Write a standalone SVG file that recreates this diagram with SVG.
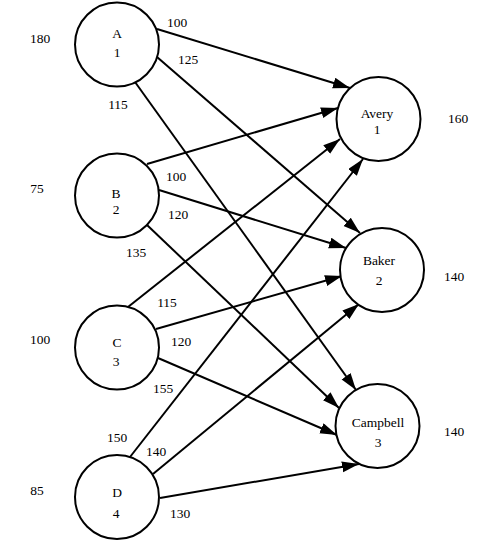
<svg xmlns="http://www.w3.org/2000/svg" width="477" height="546" viewBox="0 0 477 546">
<style>
.n{fill:#fff;stroke:#000;stroke-width:2}
.t{font-family:"Liberation Serif",serif;font-size:13.5px;fill:#000;text-anchor:middle;dominant-baseline:central}
.e{stroke:#000;stroke-width:2;fill:none;marker-end:url(#ah)}
</style>
<defs>
<marker id="ah" markerUnits="userSpaceOnUse" markerWidth="18" markerHeight="12" refX="17" refY="5.5" orient="auto">
<path d="M0,0 L17,5.5 L0,11 z" fill="#000"/>
</marker>
</defs>
<rect width="477" height="546" fill="#fff"/>
<g id="connectors">
<line class="e" x1="157" y1="29" x2="350" y2="88"/>
<line class="e" x1="157" y1="57" x2="360" y2="233"/>
<line class="e" x1="135" y1="82" x2="356" y2="390"/>
<line class="e" x1="147" y1="164" x2="338" y2="108"/>
<line class="e" x1="159" y1="190" x2="346" y2="248"/>
<line class="e" x1="147" y1="225" x2="339" y2="408"/>
<line class="e" x1="128" y1="307" x2="340" y2="139"/>
<line class="e" x1="156" y1="329" x2="342" y2="276"/>
<line class="e" x1="158" y1="358" x2="337" y2="435"/>
<line class="e" x1="130" y1="457" x2="363" y2="159"/>
<line class="e" x1="153" y1="474" x2="359" y2="304"/>
<line class="e" x1="160" y1="498" x2="359" y2="464"/>
</g>
<g id="edge-labels">
<text class="t" x="177" y="22">100</text>
<text class="t" x="188" y="59">125</text>
<text class="t" x="118" y="104">115</text>
<text class="t" x="176" y="176">100</text>
<text class="t" x="178" y="214">120</text>
<text class="t" x="136" y="252">135</text>
<text class="t" x="167" y="302">115</text>
<text class="t" x="181" y="341">120</text>
<text class="t" x="163" y="388">155</text>
<text class="t" x="117" y="437">150</text>
<text class="t" x="156" y="451">140</text>
<text class="t" x="180" y="513">130</text>
</g>
<g id="supply-labels">
<text class="t" x="40" y="38">180</text>
<text class="t" x="37" y="188">75</text>
<text class="t" x="40" y="339">100</text>
<text class="t" x="37" y="490">85</text>
</g>
<g id="demand-labels">
<text class="t" x="458" y="118">160</text>
<text class="t" x="454" y="276">140</text>
<text class="t" x="454" y="431">140</text>
</g>
<g id="node-A"><circle class="n" cx="117" cy="44.5" r="42"/><text class="t" x="117" y="33">A</text><text class="t" x="117" y="52">1</text></g>
<g id="node-B"><circle class="n" cx="117" cy="195.5" r="42"/><text class="t" x="116" y="193">B</text><text class="t" x="116" y="209">2</text></g>
<g id="node-C"><circle class="n" cx="117" cy="347.5" r="42"/><text class="t" x="117" y="342">C</text><text class="t" x="116" y="361">3</text></g>
<g id="node-D"><circle class="n" cx="117" cy="497" r="42"/><text class="t" x="117" y="492">D</text><text class="t" x="116" y="513">4</text></g>
<g id="node-Avery"><circle class="n" cx="378.5" cy="119" r="42"/><text class="t" x="377" y="113">Avery</text><text class="t" x="377" y="129">1</text></g>
<g id="node-Baker"><circle class="n" cx="382" cy="270" r="42"/><text class="t" x="379" y="260">Baker</text><text class="t" x="379" y="280">2</text></g>
<g id="node-Campbell"><circle class="n" cx="377.5" cy="426" r="42"/><text class="t" x="378" y="422">Campbell</text><text class="t" x="378" y="442">3</text></g>
</svg>
